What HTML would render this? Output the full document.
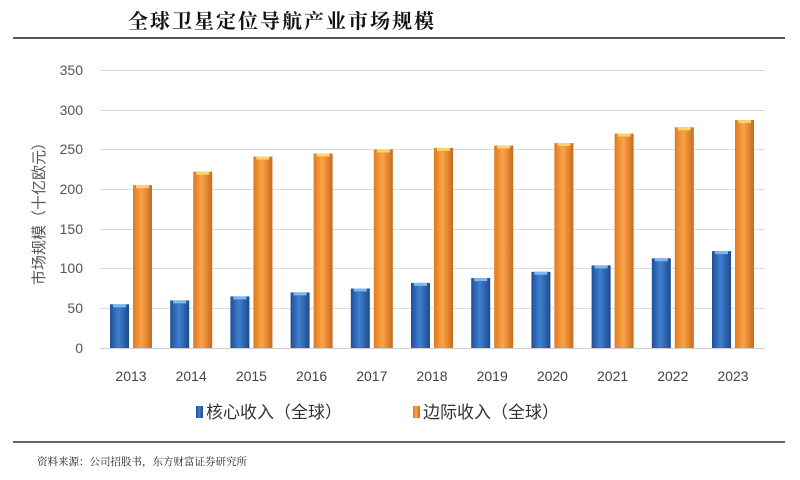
<!DOCTYPE html>
<html><head><meta charset="utf-8"><style>
body{margin:0;background:#fff;width:800px;height:475px;overflow:hidden}
</style></head><body>
<svg width="800" height="475" xmlns="http://www.w3.org/2000/svg" font-family="Liberation Sans, Noto Sans CJK SC, sans-serif">
<defs>
<linearGradient id="b" x1="0" x2="1"><stop offset="0" stop-color="#1f4f96"/><stop offset="0.45" stop-color="#3f7fd0"/><stop offset="1" stop-color="#1d4a8c"/></linearGradient>
<linearGradient id="o" x1="0" x2="1"><stop offset="0" stop-color="#e07a20"/><stop offset="0.45" stop-color="#fba348"/><stop offset="1" stop-color="#c86a1c"/></linearGradient>
</defs>
<text x="128" y="28" font-family="Noto Serif CJK SC, serif" font-size="20" font-weight="bold" fill="#111" letter-spacing="2">全球卫星定位导航产业市场规模</text>
<rect x="13" y="37" width="772" height="2" fill="#555"/>
<g stroke="#dcdcdc" stroke-width="1">
<line x1="100" x2="765" y1="70.5" y2="70.5"/><line x1="100" x2="765" y1="110.5" y2="110.5"/>
<line x1="100" x2="765" y1="149.5" y2="149.5"/><line x1="100" x2="765" y1="189.5" y2="189.5"/>
<line x1="100" x2="765" y1="229.5" y2="229.5"/><line x1="100" x2="765" y1="268.5" y2="268.5"/>
<line x1="100" x2="765" y1="308.5" y2="308.5"/><line x1="100" x2="765" y1="348.5" y2="348.5" stroke="#cfcfcf"/>
</g>
<g font-size="14" fill="#555" text-anchor="end">
<text x="83" y="75">350</text><text x="83" y="115">300</text><text x="83" y="154">250</text><text x="83" y="194">200</text>
<text x="83" y="234">150</text><text x="83" y="273">100</text><text x="83" y="313">50</text><text x="83" y="353">0</text>
</g>
<text transform="translate(44,210) rotate(-90)" font-size="15" fill="#555" text-anchor="middle">市场规模（十亿欧元）</text>
<g fill="url(#b)">
<rect x="110" y="304.3" width="19" height="43.7"/>
<rect x="170.2" y="300.4" width="19" height="47.6"/>
<rect x="230.4" y="296.4" width="19" height="51.6"/>
<rect x="290.6" y="292.4" width="19" height="55.6"/>
<rect x="350.8" y="288.5" width="19" height="59.5"/>
<rect x="411" y="282.9" width="19" height="65.1"/>
<rect x="471.2" y="278.1" width="19" height="69.9"/>
<rect x="531.4" y="271.8" width="19" height="76.2"/>
<rect x="591.6" y="265.4" width="19" height="82.6"/>
<rect x="651.8" y="258.3" width="19" height="89.7"/>
<rect x="712" y="251.1" width="19" height="96.9"/>
</g>
<g fill="#7fb6ee">
<rect x="113" y="304.3" width="13" height="3"/>
<rect x="173.2" y="300.4" width="13" height="3"/>
<rect x="233.4" y="296.4" width="13" height="3"/>
<rect x="293.6" y="292.4" width="13" height="3"/>
<rect x="353.8" y="288.5" width="13" height="3"/>
<rect x="414" y="282.9" width="13" height="3"/>
<rect x="474.2" y="278.1" width="13" height="3"/>
<rect x="534.4" y="271.8" width="13" height="3"/>
<rect x="594.6" y="265.4" width="13" height="3"/>
<rect x="654.8" y="258.3" width="13" height="3"/>
<rect x="715" y="251.1" width="13" height="3"/>
</g>
<g fill="url(#o)">
<rect x="133" y="185.2" width="19" height="162.8"/>
<rect x="193.2" y="171.7" width="19" height="176.3"/>
<rect x="253.4" y="156.6" width="19" height="191.4"/>
<rect x="313.6" y="153.5" width="19" height="194.5"/>
<rect x="373.8" y="149.5" width="19" height="198.5"/>
<rect x="434" y="147.9" width="19" height="200.1"/>
<rect x="494.2" y="145.5" width="19" height="202.5"/>
<rect x="554.4" y="143.1" width="19" height="204.9"/>
<rect x="614.6" y="133.6" width="19" height="214.4"/>
<rect x="674.8" y="127.3" width="19" height="220.7"/>
<rect x="735" y="120.1" width="19" height="227.9"/>
</g>
<g fill="#fcd36a">
<rect x="136" y="185.2" width="13" height="3"/>
<rect x="196.2" y="171.7" width="13" height="3"/>
<rect x="256.4" y="156.6" width="13" height="3"/>
<rect x="316.6" y="153.5" width="13" height="3"/>
<rect x="376.8" y="149.5" width="13" height="3"/>
<rect x="437" y="147.9" width="13" height="3"/>
<rect x="497.2" y="145.5" width="13" height="3"/>
<rect x="557.4" y="143.1" width="13" height="3"/>
<rect x="617.6" y="133.6" width="13" height="3"/>
<rect x="677.8" y="127.3" width="13" height="3"/>
<rect x="738" y="120.1" width="13" height="3"/>
</g>
<g font-size="14" fill="#444" text-anchor="middle">
<text x="131" y="381">2013</text><text x="191.2" y="381">2014</text><text x="251.4" y="381">2015</text>
<text x="311.6" y="381">2016</text><text x="371.8" y="381">2017</text><text x="432" y="381">2018</text>
<text x="492.2" y="381">2019</text><text x="552.4" y="381">2020</text><text x="612.6" y="381">2021</text>
<text x="672.8" y="381">2022</text><text x="733" y="381">2023</text>
</g>
<rect x="196" y="406" width="7" height="12" fill="url(#b)"/>
<text x="206" y="418" font-size="17" fill="#333">核心收入（全球）</text>
<rect x="413" y="406" width="7" height="12" fill="url(#o)"/>
<text x="423" y="418" font-size="17" fill="#333">边际收入（全球）</text>
<rect x="13" y="441" width="772" height="2" fill="#666"/>
<text x="37" y="465" font-family="Noto Serif CJK SC, serif" font-size="10.5" fill="#222">资料来源：公司招股书，东方财富证券研究所</text>
</svg>
</body></html>
